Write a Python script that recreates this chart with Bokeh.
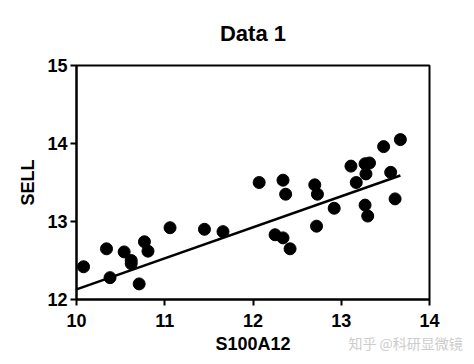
from bokeh.plotting import figure
from bokeh.models import Range1d, FixedTicker, LinearAxis
from bokeh.embed import file_html
from bokeh.resources import INLINE

# Data
s100a12 = [10.08, 10.34, 10.38, 10.54, 10.62, 10.62, 10.71, 10.77, 10.81, 11.06,
           11.45, 11.66, 12.07, 12.34, 12.37, 12.25, 12.34, 12.42, 12.70, 12.73,
           12.72, 12.92, 13.11, 13.17, 13.27, 13.32, 13.28, 13.27, 13.30, 13.48,
           13.67, 13.56, 13.61]
sell = [12.42, 12.65, 12.28, 12.61, 12.50, 12.46, 12.20, 12.74, 12.62, 12.92,
        12.90, 12.87, 13.50, 13.53, 13.35, 12.83, 12.79, 12.65, 13.47, 13.35,
        12.94, 13.17, 13.71, 13.50, 13.74, 13.75, 13.61, 13.21, 13.07, 13.96,
        14.05, 13.63, 13.29]
fit_x = [10.0, 13.67]
fit_y = [12.13, 13.59]
x_ticks = [10, 11, 12, 13, 14]
y_ticks = [12, 13, 14, 15]
watermark = "知乎 @科研显微镜"
watermark_x = 13.73

FONT = "Liberation Sans"

p = figure(frame_width=353, frame_height=234, output_backend="svg", toolbar_location=None,
           x_range=Range1d(10, 14), y_range=Range1d(12, 15),
           min_border_left=76, min_border_right=37, min_border_top=65, min_border_bottom=57,
           title="Data 1")
p.background_fill_color = "white"
p.border_fill_color = "white"
p.grid.visible = False
p.outline_line_color = "black"
p.outline_line_width = 2

p.title.align = "center"
p.title.vertical_align = "middle"
p.title.text_font = FONT
p.title.text_font_size = "22px"
p.title.text_font_style = "bold"
p.title.text_color = "black"
p.title.standoff = 38

for ax, ticks, lab in ((p.xaxis, x_ticks, "S100A12"), (p.yaxis, y_ticks, "SELL")):
    ax.ticker = FixedTicker(ticks=ticks)
    ax.minor_tick_line_color = None
    ax.major_tick_in = 0
    ax.major_tick_out = 6
    ax.major_tick_line_width = 2
    ax.major_tick_line_color = "black"
    ax.axis_line_width = 2
    ax.axis_line_color = "black"
    ax.major_label_text_font = FONT
    ax.major_label_text_font_style = "bold"
    ax.major_label_text_font_size = "18px"
    ax.major_label_text_color = "black"
    ax.axis_label = lab
    ax.axis_label_text_font = FONT
    ax.axis_label_text_font_style = "bold"
    ax.axis_label_text_font_size = "18px"
    ax.axis_label_text_color = "black"

p.xaxis.major_label_standoff = 8
p.xaxis.axis_label_standoff = 4
p.yaxis.major_label_standoff = 3
p.yaxis.axis_label_standoff = 6

# watermark carried as the single tick label of an invisible extra axis
wm_axis = LinearAxis(ticker=FixedTicker(ticks=[watermark_x]),
                     major_label_overrides={watermark_x: watermark},
                     axis_line_color=None, major_tick_line_color=None,
                     minor_tick_line_color=None, major_tick_out=0, major_tick_in=0,
                     major_label_standoff=-24,
                     major_label_text_font="Noto Sans CJK SC",
                     major_label_text_font_size="14px",
                     major_label_text_color="#cccccc")
p.add_layout(wm_axis, "below")

p.line(fit_x, fit_y, line_color="black", line_width=2.5)
p.scatter(s100a12, sell, size=12, fill_color="black", line_color="black")

open("out.html", "w").write(file_html(p, INLINE))
